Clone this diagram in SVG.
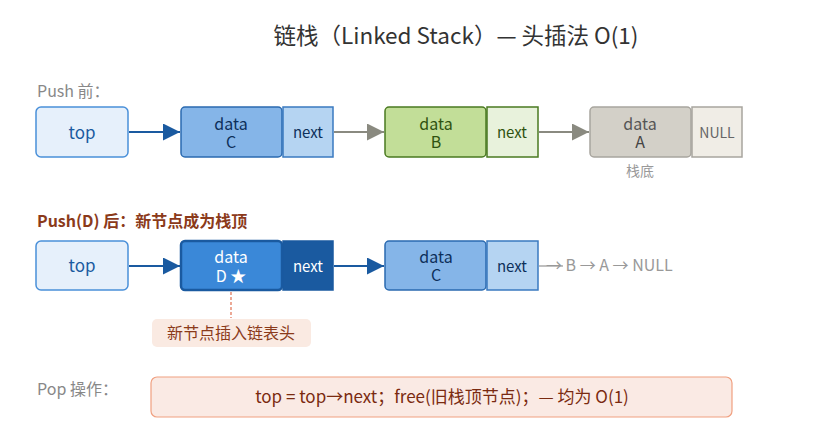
<svg xmlns="http://www.w3.org/2000/svg" width="829" height="446" viewBox="0 0 829 446">
<style>
text{font-family:"Noto Sans CJK SC","Noto Sans",sans-serif;}
.title{font-size:22.5px;fill:#333;text-anchor:middle;}
.sec{font-size:16px;fill:#888;}
.sec2{font-size:16px;fill:#8b3a1a;font-weight:bold;}
.top{fill:#e6f0fb;stroke:#4a90d9;stroke-width:1.5;}
.toptx{font-size:17px;fill:#1a5aa0;text-anchor:middle;}
.cdata{fill:#85b5e8;stroke:#2a6ab0;stroke-width:1.5;}
.cnext{fill:#b5d4f2;stroke:#3a7ac0;stroke-width:1.5;}
.ctx{font-size:16px;fill:#0d2f5a;text-anchor:middle;}
.bdata{fill:#c2de98;stroke:#4a7a20;stroke-width:1.5;}
.bnext{fill:#e8f2dc;stroke:#4a7a20;stroke-width:1.5;}
.btx{font-size:16px;fill:#2f5210;text-anchor:middle;}
.adata{fill:#d3d0c8;stroke:#a8a59e;stroke-width:1.5;}
.anext{fill:#f0ede6;stroke:#a8a59e;stroke-width:1.5;}
.atx{font-size:16px;fill:#444;text-anchor:middle;}
.ddata{fill:#3a88d8;stroke:#1a5aa0;stroke-width:2.5;}
.dnext{fill:#1a5aa0;stroke:#1a5aa0;stroke-width:1.5;}
.dtx{font-size:16px;fill:#fff;text-anchor:middle;}
.nx{font-size:15px;}
.blue{stroke:#1a5aa0;stroke-width:2;fill:none;}
.grey{stroke:#8a8a80;stroke-width:2;fill:none;}
</style>
<defs>
<marker id="ab" viewBox="0 0 10 10" refX="10" refY="5" markerWidth="17" markerHeight="17" markerUnits="userSpaceOnUse" orient="auto"><path d="M0,0 L10,5 L0,10 z" fill="#1a5aa0"/></marker>
<marker id="ag" viewBox="0 0 10 10" refX="10" refY="5" markerWidth="17" markerHeight="17" markerUnits="userSpaceOnUse" orient="auto"><path d="M0,0 L10,5 L0,10 z" fill="#8a8a80"/></marker>
</defs>
<text class="title" x="456" y="44">链栈（Linked Stack）— 头插法 O(1)</text>
<text class="sec" x="37" y="97">Push 前：</text>
<text class="sec2" x="37" y="227">Push(D) 后：新节点成为栈顶</text>
<text class="sec" x="37" y="395">Pop 操作：</text>
<g id="connectors">
<line class="blue" x1="129" y1="132" x2="180" y2="132" marker-end="url(#ab)"/>
<line class="grey" x1="334" y1="132" x2="384" y2="132" marker-end="url(#ag)"/>
<line class="grey" x1="539" y1="132" x2="589" y2="132" marker-end="url(#ag)"/>
<line class="blue" x1="129" y1="266" x2="180" y2="266" marker-end="url(#ab)"/>
<line class="blue" x1="334" y1="266" x2="384" y2="266" marker-end="url(#ab)"/>
<line x1="539" y1="266" x2="563" y2="266" stroke="#aaa" stroke-width="1.5"/>
<line x1="231" y1="292" x2="231" y2="318" stroke="#e07050" stroke-width="1.2" stroke-dasharray="3,2"/>
</g>
<g id="top1"><rect class="top" x="36" y="107" width="92" height="50" rx="5"/><text class="toptx" x="82" y="139">top</text></g>
<g id="nodeC1"><rect class="cdata" x="181" y="107" width="101" height="50" rx="4"/><text class="ctx" x="231" y="130">data</text><text class="ctx" x="231" y="148">C</text>
<rect class="cnext" x="283" y="107" width="50" height="50"/><text class="ctx nx" x="308" y="138">next</text></g>
<g id="nodeB1"><rect class="bdata" x="385" y="107" width="101" height="50" rx="4"/><text class="btx" x="436" y="130">data</text><text class="btx" x="436" y="148">B</text>
<rect class="bnext" x="487" y="107" width="51" height="50"/><text class="btx nx" x="512" y="138">next</text></g>
<g id="nodeA1"><rect class="adata" x="590" y="107" width="101" height="50" rx="4"/><text class="atx" x="640" y="130" style="fill:#555">data</text><text class="atx" x="640" y="148">A</text>
<rect class="anext" x="692" y="107" width="50" height="50"/><text class="atx" x="717" y="138" style="font-size:14px;fill:#666">NULL</text>
<text x="640" y="176" style="font-size:14px;fill:#999;text-anchor:middle">栈底</text></g>
<g id="top2"><rect class="top" x="36" y="241" width="92" height="49" rx="5"/><text class="toptx" x="82" y="272">top</text></g>
<g id="nodeD"><rect class="ddata" x="181" y="241" width="101" height="49" rx="4"/><text class="dtx" x="231" y="263">data</text><text class="dtx" x="231" y="282">D ★</text>
<rect class="dnext" x="283" y="241" width="50" height="49"/><text class="dtx nx" x="308" y="272">next</text></g>
<g id="nodeC2"><rect class="cdata" x="385" y="241" width="101" height="49" rx="4"/><text class="ctx" x="436" y="263">data</text><text class="ctx" x="436" y="281">C</text>
<rect class="cnext" x="487" y="241" width="51" height="49"/><text class="ctx nx" x="512" y="272">next</text></g>
<g id="rest"><text x="546" y="271" style="font-size:16px;fill:#999">→ B → A → NULL</text></g>
<g id="note"><rect x="152" y="319" width="159" height="28" rx="5" fill="#faeae2"/><text x="231" y="339" style="font-size:16px;fill:#8b3a1a;text-anchor:middle">新节点插入链表头</text></g>
<g id="pop"><rect x="151" y="377" width="581" height="40" rx="6" fill="#faeae4" stroke="#f0a080" stroke-width="1.2"/><text x="442" y="403" style="font-size:17px;fill:#7a2a10;text-anchor:middle">top = top→next；free(旧栈顶节点)；— 均为 O(1)</text></g>
</svg>
